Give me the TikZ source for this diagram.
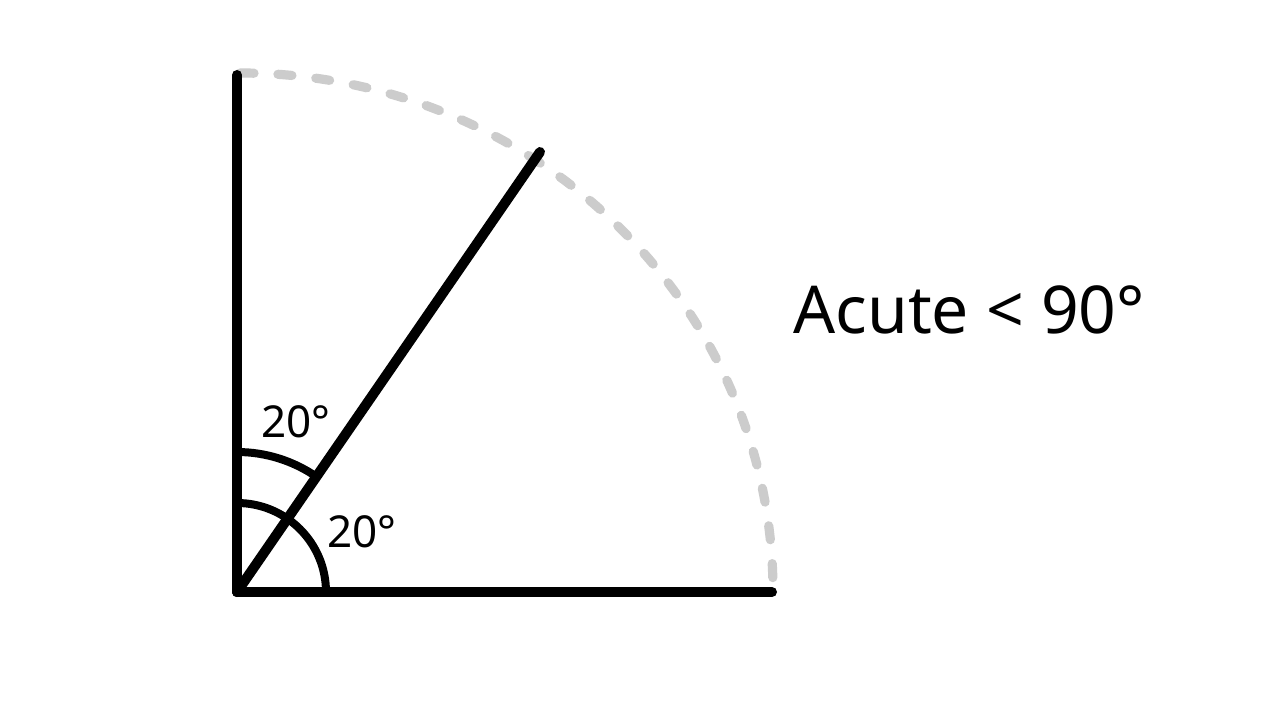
\documentclass[tikz,border=0pt]{standalone}
\usepackage{fontspec}
\setmainfont{Noto Sans}
\begin{document}
\begin{tikzpicture}[x=0.5pt,y=0.5pt,
  ray/.style={line width=5pt,line cap=round,black},
  anglemark/.style={line width=4pt,black},
  guide/.style={line width=4.6pt,line cap=round,draw=black!20,dash pattern=on 7pt off 12pt},
  small/.style={font=\fontsize{22}{24}\selectfont,inner sep=0pt},
  big/.style={font=\fontsize{33}{36}\selectfont,inner sep=0pt}]
\path[fill=white] (0,0) rectangle (1280,720);
\useasboundingbox (0,0) rectangle (1280,720);
\coordinate (O) at (237,128);
\coordinate (H) at (772,128);
\coordinate (V) at (237,645);
\coordinate (D) at (540,568);
\coordinate (T) at (240,647);
% dashed guide arc
\draw[guide] (T) arc[start angle=90,end angle=0,x radius=533,y radius=519];
% angle marks
\draw[anglemark] (O) ++(0,140) arc[start angle=90,end angle=55.4,radius=140];
\draw[anglemark] (O) ++(0,89) arc[start angle=90,end angle=0,radius=89];
% rays
\draw[ray] (O) -- (H);
\draw[ray] (O) -- (V);
\draw[ray] (O) -- (D);
% labels
\node[small] (l1) at (296,298) {20°};
\node[small] (l2) at (362,188) {20°};
\node[big,anchor=west] (t) at (793,410) {Acute < 90°};
\end{tikzpicture}
\end{document}
